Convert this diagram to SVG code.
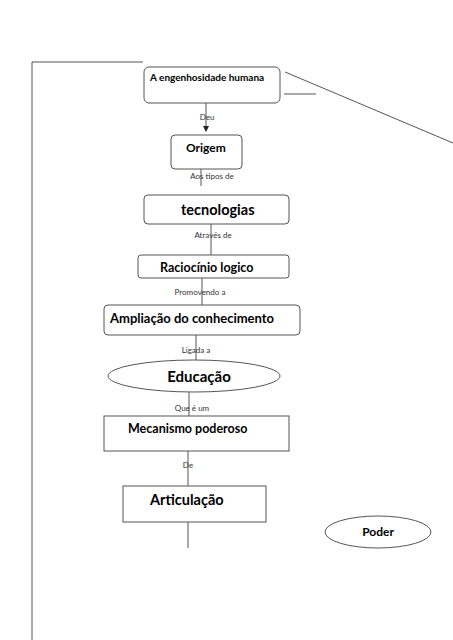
<svg xmlns="http://www.w3.org/2000/svg" width="453" height="640" viewBox="0 0 453 640">
<style>
.box{fill:#fff;stroke:#555;stroke-width:1}
.ln{stroke:#555;stroke-width:1;fill:none}
.t{font-family:Lato,"Liberation Sans",sans-serif;font-weight:bold;fill:#000}
.lb{font-family:Lato,"Liberation Sans",sans-serif;font-size:8px;fill:#333}
</style>
<defs>
<marker id="arr" markerWidth="6" markerHeight="6" refX="5" refY="3" orient="auto" markerUnits="userSpaceOnUse">
<path d="M0,0 L6,3 L0,6 z" fill="#222"/>
</marker>
</defs>
<rect width="453" height="640" fill="#fff"/>
<g id="connectors">
<path class="ln" d="M32,640 V62 H143"/>
<line class="ln" x1="285" y1="72" x2="453" y2="143"/>
<line class="ln" x1="284" y1="94" x2="316" y2="94"/>
<line class="ln" x1="206" y1="103" x2="206" y2="131" marker-end="url(#arr)"/>
<line class="ln" x1="201" y1="169" x2="201" y2="186"/>
<line class="ln" x1="211" y1="224" x2="211" y2="255"/>
<line class="ln" x1="202" y1="278" x2="202" y2="305"/>
<line class="ln" x1="196" y1="335" x2="196" y2="360"/>
<line class="ln" x1="189" y1="392" x2="189" y2="416"/>
<line class="ln" x1="188" y1="451" x2="188" y2="486"/>
<line class="ln" x1="188" y1="522" x2="188" y2="548"/>
<text class="lb" x="207" y="120" text-anchor="middle">Deu</text>
<text class="lb" x="212" y="179" text-anchor="middle">Aos tipos de</text>
<text class="lb" x="213" y="238" text-anchor="middle">Através de</text>
<text class="lb" x="200" y="295" text-anchor="middle">Promovendo a</text>
<text class="lb" x="196" y="353" text-anchor="middle">Ligada a</text>
<text class="lb" x="192" y="411" text-anchor="middle">Que  é um</text>
<text class="lb" x="188" y="468" text-anchor="middle">De</text>
</g>
<g id="n1">
<rect class="box" x="144" y="67" width="136" height="36" rx="5"/>
<text class="t" x="150" y="81" font-size="10">A engenhosidade humana</text>
</g>
<g id="n2">
<rect class="box" x="171" y="135" width="71" height="34" rx="4"/>
<text class="t" x="186" y="152" font-size="12">Origem</text>
</g>
<g id="n3">
<rect class="box" x="144" y="195" width="145" height="29" rx="4"/>
<text class="t" x="181" y="215" font-size="14.5">tecnologias</text>
</g>
<g id="n4">
<rect class="box" x="138" y="255" width="151" height="23" rx="3"/>
<text class="t" x="160" y="272" font-size="12.5">Raciocínio logico</text>
</g>
<g id="n5">
<rect class="box" x="104" y="305" width="196" height="30" rx="4"/>
<text class="t" x="110" y="323" font-size="13">Ampliação do conhecimento</text>
</g>
<g id="n6">
<ellipse class="box" cx="194" cy="376" rx="86" ry="16"/>
<text class="t" x="199" y="382" font-size="15" text-anchor="middle">Educação</text>
</g>
<g id="n7">
<rect class="box" x="104" y="416" width="185" height="35"/>
<text class="t" x="128" y="433" font-size="12.5">Mecanismo poderoso</text>
</g>
<g id="n8">
<rect class="box" x="123" y="486" width="143" height="36"/>
<text class="t" x="150" y="505" font-size="14.5">Articulação</text>
</g>
<g id="n9">
<ellipse class="box" cx="378" cy="532" rx="53" ry="16"/>
<text class="t" x="378" y="536" font-size="12" text-anchor="middle">Poder</text>
</g>
</svg>
